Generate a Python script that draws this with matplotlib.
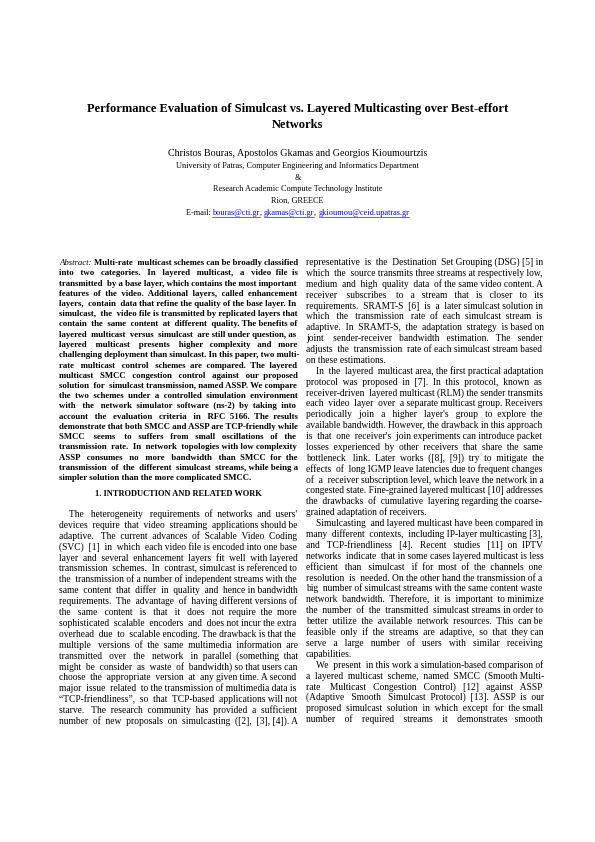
import matplotlib
matplotlib.use('Agg')
import matplotlib.pyplot as plt
import numpy as np

W, H = 595, 842
SERIF = ['Liberation Serif', 'DejaVu Serif']

title_lines = ["Performance Evaluation of Simulcast vs. Layered Multicasting over Best-effort",
               "Networks"]
author_line = "Christos Bouras, Apostolos Gkamas and Georgios Kioumourtzis"
affil_lines = ["University of Patras, Computer Engineering and Informatics Department",
               "&",
               "Research Academic Compute Technology Institute",
               "Rion, GREECE"]
emails = ["bouras@cti.gr", "gkamas@cti.gr", "gkioumou@ceid.upatras.gr"]

abstract_lines = [
    "Multi-rate multicast schemes can be broadly classified",
    "into two categories. In layered multicast, a video file is",
    "transmitted by a base layer, which contains the most important",
    "features of the video. Additional layers, called enhancement",
    "layers, contain data that refine the quality of the base layer. In",
    "simulcast, the video file is transmitted by replicated layers that",
    "contain the same content at different quality. The benefits of",
    "layered multicast versus simulcast are still under question, as",
    "layered multicast presents higher complexity and more",
    "challenging deployment than simulcast. In this paper, two multi-",
    "rate multicast control schemes are compared. The layered",
    "multicast SMCC congestion control against our proposed",
    "solution for simulcast transmission, named ASSP. We compare",
    "the two schemes under a controlled simulation environment",
    "with the network simulator software (ns-2) by taking into",
    "account the evaluation criteria in RFC 5166. The results",
    "demonstrate that both SMCC and ASSP are TCP-friendly while",
    "SMCC seems to suffers from small oscillations of the",
    "transmission rate. In network topologies with low complexity",
    "ASSP consumes no more bandwidth than SMCC for the",
    "transmission of the different simulcast streams, while being a",
    "|simpler solution than the more complicated SMCC.",
]
heading = "1. INTRODUCTION AND RELATED WORK"
intro_lines = [
    ">The heterogeneity requirements of networks and users'",
    "devices require that video streaming applications should be",
    "adaptive. The current advances of Scalable Video Coding",
    "(SVC) [1] in which each video file is encoded into one base",
    "layer and several enhancement layers fit well with layered",
    "transmission schemes. In contrast, simulcast is referenced to",
    "the transmission of a number of independent streams with the",
    "same content that differ in quality and hence in bandwidth",
    "requirements. The advantage of having different versions of",
    "the same content is that it does not require the more",
    "sophisticated scalable encoders and does not incur the extra",
    "overhead due to scalable encoding. The drawback is that the",
    "multiple versions of the same multimedia information are",
    "transmitted over the network in parallel (something that",
    "might be consider as waste of bandwidth) so that users can",
    "choose the appropriate version at any given time. A second",
    "major issue related to the transmission of multimedia data is",
    "\u201cTCP-friendliness\u201d, so that TCP-based applications will not",
    "starve. The research community has provided a sufficient",
    "number of new proposals on simulcasting ([2], [3], [4]). A",
]
right_lines = [
    "representative is the Destination Set Grouping (DSG) [5] in",
    "which the source transmits three streams at respectively low,",
    "medium and high quality data of the same video content. A",
    "receiver subscribes to a stream that is closer to its",
    "requirements. SRAMT-S [6] is a later simulcast solution in",
    "which the transmission rate of each simulcast stream is",
    "adaptive. In SRAMT-S, the adaptation strategy is based on",
    "joint sender-receiver bandwidth estimation. The sender",
    "adjusts the transmission rate of each simulcast stream based",
    "|on these estimations.",
    ">In the layered multicast area, the first practical adaptation",
    "protocol was proposed in [7]. In this protocol, known as",
    "receiver-driven layered multicast (RLM) the sender transmits",
    "each video layer over a separate multicast group. Receivers",
    "periodically join a higher layer's group to explore the",
    "available bandwidth. However, the drawback in this approach",
    "is that one receiver's join experiments can introduce packet",
    "losses experienced by other receivers that share the same",
    "bottleneck link. Later works ([8], [9]) try to mitigate the",
    "effects of long IGMP leave latencies due to frequent changes",
    "of a receiver subscription level, which leave the network in a",
    "congested state. Fine-grained layered multicast [10] addresses",
    "the drawbacks of cumulative layering regarding the coarse-",
    "|grained adaptation of receivers.",
    ">Simulcasting and layered multicast have been compared in",
    "many different contexts, including IP-layer multicasting [3],",
    "and TCP-friendliness [4]. Recent studies [11] on IPTV",
    "networks indicate that in some cases layered multicast is less",
    "efficient than simulcast if for most of the channels one",
    "resolution is needed. On the other hand the transmission of a",
    "big number of simulcast streams with the same content waste",
    "network bandwidth. Therefore, it is important to minimize",
    "the number of the transmitted simulcast streams in order to",
    "better utilize the available network resources. This can be",
    "feasible only if the streams are adaptive, so that they can",
    "serve a large number of users with similar receiving",
    "|capabilities.",
    ">We present in this work a simulation-based comparison of",
    "a layered multicast scheme, named SMCC (Smooth Multi-",
    "rate Multicast Congestion Control) [12] against ASSP",
    "(Adaptive Smooth Simulcast Protocol) [13]. ASSP is our",
    "proposed simulcast solution in which except for the small",
    "number of required streams it demonstrates smooth",
]

fig = plt.figure(figsize=(W / 72, H / 72), dpi=72)
fig.patch.set_facecolor('white')
rend = fig.canvas.get_renderer()


def put(x, y, s, ha='left', **kw):
    return fig.text(x / W, 1 - y / H, s, ha=ha, va='baseline', family=SERIF, **kw)


def width(t):
    return t.get_window_extent(rend).width


def fit_size(lines, colw, weight):
    # font size so that the longest natural lines just fill the column
    t = put(0, -50, '', fontsize=10, weight=weight)
    ws = []
    for raw in lines:
        t.set_text(raw.lstrip('|>'))
        ws.append(width(t))
    t.remove()
    return 10 * colw / np.percentile(ws, 90) * 0.99


def block(lines, x0, x1, y0, dy, size, weight='normal', indent=10, lead=None):
    for i, raw in enumerate(lines):
        y = y0 + i * dy
        last = raw.startswith('|')
        xs = x0 + (indent if raw.startswith('>') else 0)
        words = raw.lstrip('|>').split(' ')
        if lead and i == 0:
            lt = put(xs, y, lead + ' ', fontsize=size, style='italic')
            xs += width(lt)
        t = put(xs, y, ' '.join(words), fontsize=size, weight=weight)
        if last or len(words) < 2:
            continue
        # justify by padding gaps with extra spaces
        sp = put(0, -50, 'a a', fontsize=size, weight=weight)
        sp2 = put(0, -50, 'aa', fontsize=size, weight=weight)
        spw = width(sp) - width(sp2)
        sp.remove(); sp2.remove()
        extra = int(round((x1 - xs - width(t)) / spw))
        gaps = len(words) - 1
        if extra <= 0:
            continue
        counts = [1 + extra // gaps + (1 if k < extra % gaps else 0) for k in range(gaps)]
        s = words[0]
        for k, w in enumerate(words[1:]):
            s += ' ' * counts[k] + w
        t.set_text(s)


put(W / 2, 112, title_lines[0], ha='center', fontsize=12.5, weight='bold')
put(W / 2, 128, title_lines[1], ha='center', fontsize=12.5, weight='bold')
put(W / 2, 156, author_line, ha='center', fontsize=10)
for k, s in enumerate(affil_lines):
    put(W / 2, 168 + k * 11.7, s, ha='center', fontsize=8.3)

# e-mail line with blue underlined links
ey = 215
parts = [("E-mail: ", 'black')]
for k, e in enumerate(emails):
    parts.append((e, 'blue'))
    if k < len(emails) - 1:
        parts.append((", ", 'black'))
arts = [put(0, ey, p, fontsize=8.3, color=c) for p, c in parts]
ws = [width(a) for a in arts]
x = W / 2 - sum(ws) / 2
for a, w, (p, c) in zip(arts, ws, parts):
    a.set_x(x / W)
    if c == 'blue':
        fig.add_artist(plt.Line2D([x / W, (x + w) / W], [1 - (ey + 1.5) / H] * 2,
                                  color='blue', lw=0.6))
    x += w

LX0, LX1 = 59, 297
RX0, RX1 = 306, 543
abs_size = fit_size(abstract_lines[1:], LX1 - LX0, 'bold')
body_size = fit_size(right_lines + intro_lines, RX1 - RX0, 'normal')
block(abstract_lines, LX0, LX1, 265, 10.25, abs_size, weight='bold', lead='Abstract:')
put((LX0 + LX1) / 2, 496, heading, ha='center', fontsize=8.4, weight='bold')
block(intro_lines, LX0, LX1, 517, 10.9, body_size)
block(right_lines, RX0, RX1, 265, 10.88, body_size)

fig.savefig('out.png', dpi=72, facecolor='white')
